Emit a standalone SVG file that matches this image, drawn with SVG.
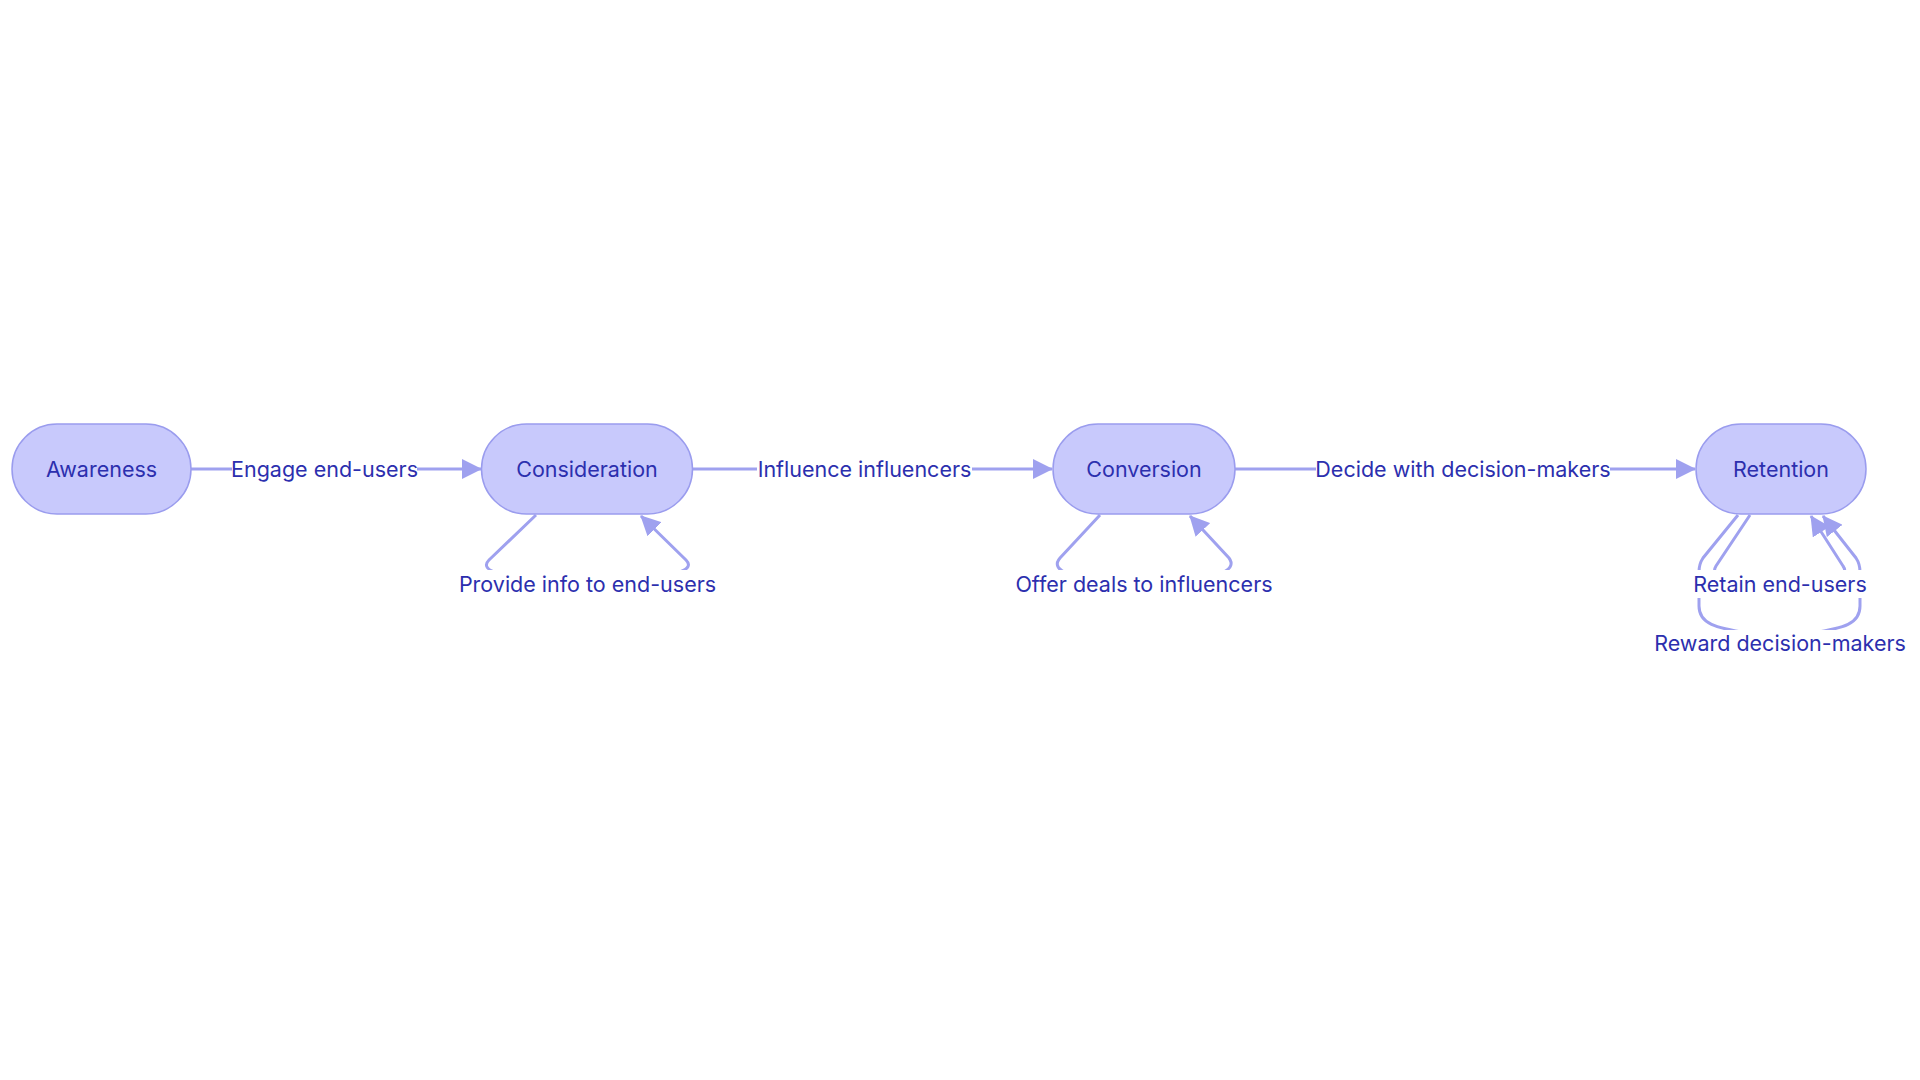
<svg xmlns="http://www.w3.org/2000/svg" width="1920" height="1080" viewBox="0 0 1920 1080">
<style>
  .node rect { fill: #c8c9fc; stroke: #9a9cee; stroke-width: 1.5; }
  .label { font-family: Inter, "Noto Sans", "Liberation Sans", sans-serif; font-size: 21.5px; fill: #2c2fae; text-anchor: middle; }
  .edge { fill: none; stroke: #9fa1ef; stroke-width: 3; }
  .lbg { fill: #ffffff; }
</style>
<defs>
  <marker id="arrow" markerUnits="userSpaceOnUse" viewBox="0 0 20 20" refX="19" refY="10" markerWidth="20" markerHeight="20" orient="auto">
    <path d="M0,0 L20,10 L0,20 z" fill="#9fa1ef"/>
  </marker>
</defs>
<rect width="1920" height="1080" fill="#ffffff"/>
<g id="connectors">
  <path class="edge" d="M191,469 L481,469" marker-end="url(#arrow)"/>
  <path class="edge" d="M692,469 L1052,469" marker-end="url(#arrow)"/>
  <path class="edge" d="M1235,469 L1695,469" marker-end="url(#arrow)"/>
  <path class="edge" d="M536,515 L489,560 Q482,567 494,572 L587,584 L680,572 Q693,567 686,560 L641,516" marker-end="url(#arrow)"/>
  <path class="edge" d="M1100,515 L1060,558 Q1053,566 1064,572 L1144,584 L1224,572 Q1235,566 1229,558 L1190,516" marker-end="url(#arrow)"/>
  <path class="edge" d="M1750,515 L1716,566 Q1713,571 1716,574 L1780,584 L1844,574 Q1846,570 1843,566 L1811,516" marker-end="url(#arrow)"/>
  <path class="edge" d="M1738,515 L1703,558 Q1699,564 1699,572 L1699,606 C1699,624 1716,628 1748,633 L1780,643 L1812,633 C1844,628 1860,624 1860,606 L1860,572 Q1860,564 1856,558 L1823,516" marker-end="url(#arrow)"/>
  <g id="edge-labels">
    <rect class="lbg" x="232" y="455" width="185" height="28"/>
    <text class="label" x="324.5" y="477">Engage end-users</text>
    <rect class="lbg" x="757" y="455" width="215" height="28"/>
    <text class="label" x="864.5" y="477">Influence influencers</text>
    <rect class="lbg" x="1316" y="455" width="294" height="28"/>
    <text class="label" x="1463" y="477">Decide with decision-makers</text>
    <rect class="lbg" x="458" y="570" width="259" height="28"/>
    <text class="label" x="587.5" y="591.5">Provide info to end-users</text>
    <rect class="lbg" x="1013" y="570" width="262" height="28"/>
    <text class="label" x="1144" y="591.5">Offer deals to influencers</text>
    <rect class="lbg" x="1689" y="570" width="182" height="28"/>
    <text class="label" x="1780" y="591.5">Retain end-users</text>
    <rect class="lbg" x="1650" y="630" width="260" height="28"/>
    <text class="label" x="1780" y="651">Reward decision-makers</text>
  </g>
</g>
<g id="node-awareness" class="node">
  <rect x="12" y="424" width="179" height="90" rx="45" ry="45"/>
  <text class="label" x="101.5" y="477">Awareness</text>
</g>
<g id="node-consideration" class="node">
  <rect x="481.5" y="424" width="211" height="90" rx="45" ry="45"/>
  <text class="label" x="587" y="477">Consideration</text>
</g>
<g id="node-conversion" class="node">
  <rect x="1053" y="424" width="182" height="90" rx="45" ry="45"/>
  <text class="label" x="1144" y="477">Conversion</text>
</g>
<g id="node-retention" class="node">
  <rect x="1696" y="424" width="170" height="90" rx="45" ry="45"/>
  <text class="label" x="1781" y="477">Retention</text>
</g>
</svg>
